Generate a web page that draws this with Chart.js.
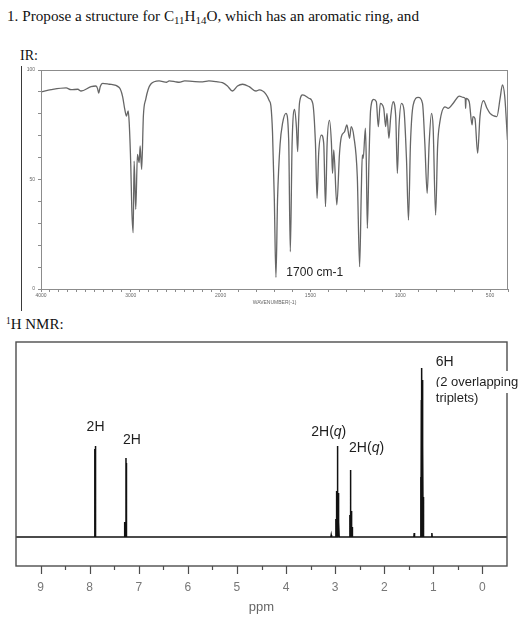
<!DOCTYPE html>
<html>
<head>
<meta charset="utf-8">
<script src="https://cdn.jsdelivr.net/npm/chart.js@4.4.1/dist/chart.umd.min.js"></script>
<style>
  html, body { margin: 0; padding: 0; background: #fff; }
  body { width: 531px; height: 623px; position: relative; overflow: hidden; font-family: "Liberation Serif", "Times New Roman", serif; color: #111; }
  .txt { position: absolute; white-space: nowrap; line-height: 15px; }
  .sb { font-size: 0.72em; position: relative; top: 0.3em; line-height: 0; }
  .sp { font-size: 0.62em; position: relative; top: -0.55em; line-height: 0; }
  #irWrap { position: absolute; left: 0; top: 60px; width: 531px; height: 250px; }
  #nmrWrap { position: absolute; left: 0; top: 335px; width: 531px; height: 288px; }
  #edge { position: absolute; left: 21px; top: 66px; width: 0; height: 245px; border-left: 1px solid #3a3a3a; }
</style>
</head>
<body>
<div class="txt" style="left:7px; top:8px; font-size:15.2px;">1. Propose a structure for C<span class="sb">11</span>H<span class="sb">14</span>O, which has an aromatic ring, and</div>
<div class="txt" style="left:20px; top:48px; font-size:14px;">IR:</div>
<div class="txt" style="left:6px; top:317px; font-size:15px;"><span class="sp">1</span>H NMR:</div>
<div id="edge"></div>
<div id="irWrap"><canvas id="ir" width="531" height="250"></canvas></div>
<div id="nmrWrap"><canvas id="nmr" width="531" height="288"></canvas></div>
<script>
// ---------------- IR data (wavenumber cm-1, %T) ----------------
const irWave = [
  4000, 3886, 3720, 3665, 3590, 3554, 3443, 3388, 3370, 3358,
  3340, 3314, 3240, 3129, 3092, 3067, 3048, 3029, 3018, 3000,
  2989, 2974, 2963, 2945, 2926, 2907, 2896, 2879, 2860, 2834,
  2779, 2686, 2600, 2573, 2500, 2462, 2400, 2315, 2200, 2130,
  2050, 1990, 1962, 1934, 1906, 1878, 1841, 1803, 1785, 1747,
  1729, 1720, 1711, 1701, 1692, 1683, 1669, 1655, 1636, 1621,
  1612, 1602, 1588, 1578, 1571, 1566, 1561, 1543, 1506, 1487,
  1472, 1463, 1454, 1439, 1426, 1416, 1407, 1394, 1383, 1377,
  1370, 1353, 1338, 1328, 1310, 1297, 1282, 1273, 1258, 1239,
  1226, 1217, 1211, 1206, 1194, 1189, 1183, 1174, 1165, 1148,
  1133, 1122, 1111, 1092, 1081, 1074, 1063, 1053, 1040, 1025,
  1016, 1007,  993,  979,  965,  954,  943,  928,  900,  876,
   863,  850,  839,  826,  817,  803,  792,  779,  751,  733,
   705,  671,  649,  638,  636,  633,  616,  600,  595,  584,
   569,  556,  536,  517,  500,  462,  444,  431,  418,  403
];
const irT = [
  90.0, 91.0, 91.8, 91.0, 91.2, 90.4, 92.4, 92.7, 91.5, 89.5,
  92.5, 93.9, 93.5, 92.0, 88.0, 82.0, 79.0, 81.3, 76.0, 56.0,
  36.5, 25.7, 58.4, 36.4, 61.5, 57.7, 65.3, 54.6, 79.0, 86.6,
  93.5, 95.0, 94.4, 95.0, 94.6, 94.4, 95.0, 94.8, 94.6, 95.0,
  94.7, 94.2, 92.7, 90.4, 92.7, 93.5, 92.4, 90.4, 90.9, 88.9,
  86.0, 83.6, 71.4, 41.0,  5.3, 41.0, 66.0, 75.7, 80.2, 68.0,
  17.0, 66.5, 82.0, 74.0, 62.7, 76.0, 84.8, 88.6, 87.0, 84.8,
  66.5, 41.4, 62.0, 70.3, 66.5, 37.6, 66.5, 77.0, 66.5, 52.8,
  63.5, 38.4, 62.0, 69.5, 71.8, 74.9, 68.8, 74.1, 69.5, 51.3,
  10.2, 43.7, 61.2, 59.7, 73.4, 58.9, 27.7, 58.9, 81.7, 86.6,
  85.5, 74.1, 84.8, 82.5, 74.1, 80.2, 68.8, 78.7, 85.5, 78.7,
  52.8, 74.1, 84.8, 81.7, 58.9, 31.5, 66.5, 84.0, 87.5, 84.8,
  66.5, 43.7, 66.5, 80.2, 74.1, 33.8, 65.0, 76.4, 83.2, 82.5,
  84.8, 88.1, 87.5, 87.0, 82.5, 87.0, 85.5, 74.9, 78.7, 77.9,
  62.0, 78.7, 86.0, 82.5, 80.2, 78.7, 87.0, 93.2, 87.8, 68.0
];
const irLabelWaves = [4000, 3000, 2000, 1500, 1000, 500];
const irYLabels = [0, 50, 100];
const irNote = { text: '1700 cm-1', wave: 1634, t: 7.3 };

// ---------------- 1H NMR data (ppm, intensity) ----------------
const nmrShift  = [7.895, 7.88, 7.29, 7.26, 7.25, 3.08, 2.985, 2.97, 2.955, 2.94, 2.925, 2.70, 2.685, 2.67, 2.655, 1.39, 1.255, 1.245, 1.235, 1.225, 1.215, 1.20, 1.03];
const nmrHeight = [88,    91,   15,   79,   74,   2,    18,    46,   91,    44,   15,    22,   67,    26,   10,    4,    60,    137,   169,   157,   92,    40,   4];
const ppmTicks = [9, 8, 7, 6, 5, 4, 3, 2, 1, 0];
const nmrLabels = [
  { parts: [['2H', false]], ppm: 7.88, h: 110, align: 'center', size: 14 },
  { parts: [['2H', false]], ppm: 7.14, h: 97, align: 'center', size: 14 },
  { parts: [['2H(', false], ['q', true], [')', false]], ppm: 3.13, h: 105, align: 'center', size: 14 },
  { parts: [['2H(', false], ['q', true], [')', false]], ppm: 2.36, h: 89, align: 'center', size: 14 },
  { parts: [['6H', false]], ppm: 0.95, h: 175, align: 'left', size: 14 },
  { parts: [['(2 overlapping', false]], ppm: 0.95, h: 155, align: 'left', size: 13, boxed: true },
  { parts: [['triplets)', false]], ppm: 0.95, h: 139, align: 'left', size: 13, boxed: true }
];

const SANS = '"Liberation Sans", Arial, sans-serif';

// piecewise IR abscissa (2000 cm-1 scale change)
function wavePos(w) { return w >= 2000 ? 4000 - w : 2000 + (2000 - w) * 2; }
function posWave(p) { return p <= 2000 ? 4000 - p : 2000 - (p - 2000) / 2; }

const irPoints = irWave.map((w, i) => ({ x: wavePos(w), y: irT[i] }));
const irMinorWaves = [];
for (let w = 4000; w >= 400; w -= 100) irMinorWaves.push(w);

const irPlugin = {
  id: 'irPlugin',
  afterDraw(chart) {
    const { ctx, chartArea: a, scales: { x, y } } = chart;
    ctx.save();
    ctx.strokeStyle = '#8c8c8c';
    ctx.lineWidth = 1;
    ctx.strokeRect(a.left + 0.5, a.top + 0.5, a.right - a.left - 1, a.bottom - a.top);
    ctx.fillStyle = '#222';
    ctx.font = '12px ' + SANS;
    ctx.textAlign = 'left';
    ctx.textBaseline = 'middle';
    ctx.fillText(irNote.text, x.getPixelForValue(wavePos(irNote.wave)), y.getPixelForValue(irNote.t));
    ctx.restore();
  }
};

new Chart(document.getElementById('ir'), {
  type: 'line',
  data: {
    datasets: [{
      data: irPoints,
      borderColor: '#666666',
      borderWidth: 1.3,
      pointRadius: 0,
      cubicInterpolationMode: 'monotone',
      fill: false
    }]
  },
  options: {
    responsive: false,
    animation: false,
    devicePixelRatio: 1,
    layout: { padding: { top: 10, right: 23, bottom: 4, left: 0 } },
    plugins: { legend: { display: false }, tooltip: { enabled: false } },
    scales: {
      x: {
        type: 'linear',
        min: 0,
        max: wavePos(400),
        afterBuildTicks: s => { s.ticks = irMinorWaves.map(w => ({ value: wavePos(w) })); },
        afterFit: s => { s.height = 17; },
        ticks: {
          autoSkip: false, maxRotation: 0, padding: 1, color: '#666',
          font: { size: 5, family: SANS },
          callback: v => { const w = Math.round(posWave(v)); return irLabelWaves.includes(w) ? String(w) : ''; }
        },
        grid: { drawOnChartArea: false, tickLength: 3, color: '#8c8c8c' },
        border: { color: '#8c8c8c' },
        title: { display: true, text: 'WAVENUMBER(-1)', color: '#666', font: { size: 5, family: SANS }, padding: 0 }
      },
      y: {
        min: 0,
        max: 100,
        afterBuildTicks: s => { const t = []; for (let v = 0; v <= 100; v += 10) t.push({ value: v }); s.ticks = t; },
        afterFit: s => { s.width = 41; },
        ticks: {
          padding: 3, color: '#666', font: { size: 5, family: SANS },
          callback: v => irYLabels.includes(v) ? String(v) : ''
        },
        grid: { drawOnChartArea: false, tickLength: 3, color: '#8c8c8c' },
        border: { color: '#8c8c8c' }
      }
    }
  },
  plugins: [irPlugin]
});

// ---------------- NMR chart ----------------
const half = 0.007;
const nmrPoints = [{ x: 9.5, y: 0 }];
nmrShift.forEach((s, i) => {
  nmrPoints.push({ x: s + half, y: 0 }, { x: s, y: nmrHeight[i] }, { x: s - half, y: 0 });
});
nmrPoints.push({ x: -0.5, y: 0 });

const nmrPlugin = {
  id: 'nmrPlugin',
  afterDraw(chart) {
    const { ctx, chartArea: a, scales: { x, y } } = chart;
    ctx.save();
    // frame
    ctx.strokeStyle = '#4d4d4d';
    ctx.lineWidth = 1.4;
    ctx.strokeRect(a.left, a.top, a.right - a.left, a.bottom - a.top);
    // tick marks (major at integers, minor at halves)
    ctx.lineWidth = 1.2;
    for (let v = 0; v <= 9; v += 0.5) {
      const px = Math.round(x.getPixelForValue(v)) + 0.5;
      const len = Number.isInteger(v) ? 8 : 4;
      ctx.beginPath();
      ctx.moveTo(px, a.bottom);
      ctx.lineTo(px, a.bottom + len);
      ctx.stroke();
    }
    // labels
    ctx.textBaseline = 'middle';
    nmrLabels.forEach(L => {
      const fontFor = it => (it ? 'italic ' : '') + L.size + 'px ' + SANS;
      let total = 0;
      L.parts.forEach(([t, it]) => { ctx.font = fontFor(it); total += ctx.measureText(t).width; });
      let px = x.getPixelForValue(L.ppm);
      const py = y.getPixelForValue(L.h);
      if (L.align === 'center') px -= total / 2;
      if (L.boxed) {
        ctx.fillStyle = '#fff';
        ctx.fillRect(px - 3, py - 11, total + 6, 22);
      }
      ctx.fillStyle = '#1e1e1e';
      ctx.textAlign = 'left';
      L.parts.forEach(([t, it]) => {
        ctx.font = fontFor(it);
        ctx.fillText(t, px, py);
        px += ctx.measureText(t).width;
      });
    });
    ctx.restore();
  }
};

new Chart(document.getElementById('nmr'), {
  type: 'line',
  data: {
    datasets: [{
      data: nmrPoints,
      borderColor: '#111',
      borderWidth: 1.5,
      pointRadius: 0,
      tension: 0,
      fill: false
    }]
  },
  options: {
    responsive: false,
    animation: false,
    devicePixelRatio: 1,
    layout: { padding: { top: 7, right: 24, bottom: 7, left: 16 } },
    plugins: { legend: { display: false }, tooltip: { enabled: false } },
    scales: {
      x: {
        type: 'linear',
        reverse: true,
        min: -0.5,
        max: 9.5,
        afterBuildTicks: s => { s.ticks = ppmTicks.map(v => ({ value: v })); },
        afterFit: s => { s.height = 50; },
        ticks: { autoSkip: false, maxRotation: 0, padding: 14, color: '#777', font: { size: 12, family: SANS } },
        grid: { display: false, drawTicks: false },
        border: { display: false },
        title: { display: true, text: 'ppm', color: '#666', font: { size: 13, family: SANS }, padding: { top: 0, bottom: 1 } }
      },
      y: { display: false, min: -29, max: 195 }
    }
  },
  plugins: [nmrPlugin]
});
</script>
</body>
</html>
